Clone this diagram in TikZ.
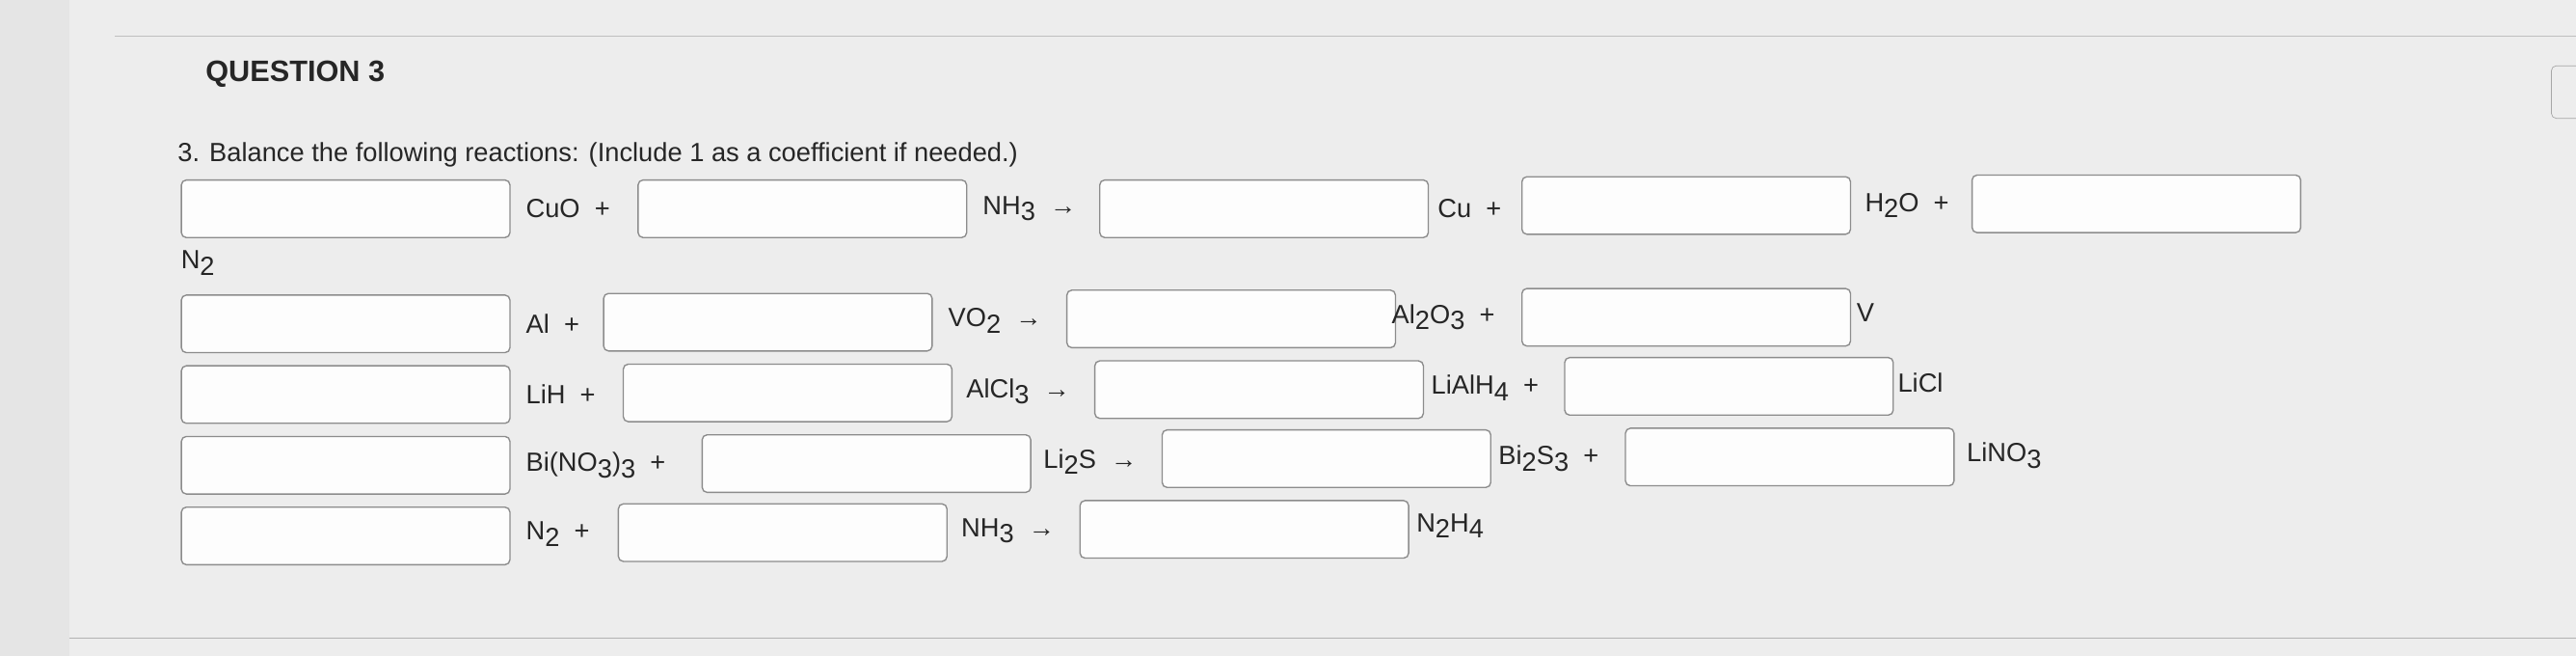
\documentclass[tikz,border=0pt]{standalone}
\usepackage{fontspec}
\setmainfont{Liberation Sans}
\newcommand{\lw}[1]{\raisebox{-0.45ex}{#1}}
\begin{document}
\begin{tikzpicture}[x=1pt,y=-1pt,
  ansbox/.style={draw=black!45,fill=white!80!black!3,rounded corners=3pt,line width=0.8pt,minimum width=200pt,minimum height=35pt,inner sep=0pt},
  lbl/.style={anchor=west,inner sep=0pt,font=\fontsize{16}{19}\selectfont,text=black!85}]
\useasboundingbox (0,0) rectangle (1568,399);
\fill[black!10] (0,0) rectangle (1568,399);
\fill[black!7] (42,0) rectangle (1568,399);
\draw[black!25,line width=0.8pt] (70,22) -- (1568,22);
\draw[black!30,line width=0.8pt] (42,388) -- (1568,388);
\draw[black!35,rounded corners=3pt] (1553,40) rectangle (1580,72);
\node[lbl,font=\fontsize{18}{21}\selectfont\bfseries] (q) at (125,45) {QUESTION 3};
\node[lbl] (t) at (108,94) {3. Balance the following reactions: (Include 1 as a coefficient if needed.)};
% row 1
\node[ansbox,anchor=west] (a1) at (110,127) {};
\node[lbl] (l11) at (320,127) {CuO \ +};
\node[ansbox,anchor=west] (a2) at (388,127) {};
\node[lbl] (l12) at (598,127) {NH\lw{3} \ →};
\node[ansbox,anchor=west] (a3) at (669,127) {};
\node[lbl] (l13) at (875,127) {Cu \ +};
\node[ansbox,anchor=west] (a4) at (926,125) {};
\node[lbl] (l14) at (1135,125) {H\lw{2}O \ +};
\node[ansbox,anchor=west] (a5) at (1200,124) {};
\node[lbl] (l15) at (110,160) {N\lw{2}};
% row 2
\node[ansbox,anchor=west] (b1) at (110,197) {};
\node[lbl] (l21) at (320,197) {Al \ +};
\node[ansbox,anchor=west] (b2) at (367,196) {};
\node[lbl] (l22) at (577,195) {VO\lw{2} \ →};
\node[ansbox,anchor=west] (b3) at (649,194) {};
\node[lbl] (l23) at (847,193) {Al\lw{2}O\lw{3} \ +};
\node[ansbox,anchor=west] (b4) at (926,193) {};
\node[lbl] (l24) at (1130,190) {V};
% row 3
\node[ansbox,anchor=west] (c1) at (110,240) {};
\node[lbl] (l31) at (320,240) {LiH \ +};
\node[ansbox,anchor=west] (c2) at (379,239) {};
\node[lbl] (l32) at (588,238) {AlCl\lw{3} \ →};
\node[ansbox,anchor=west] (c3) at (666,237) {};
\node[lbl] (l33) at (871,236) {LiAlH\lw{4} \ +};
\node[ansbox,anchor=west] (c4) at (952,235) {};
\node[lbl] (l34) at (1155,233) {LiCl};
% row 4
\node[ansbox,anchor=west] (d1) at (110,283) {};
\node[lbl] (l41) at (320,283) {Bi(NO\lw{3})\lw{3} \ +};
\node[ansbox,anchor=west] (d2) at (427,282) {};
\node[lbl] (l42) at (635,281) {Li\lw{2}S \ →};
\node[ansbox,anchor=west] (d3) at (707,279) {};
\node[lbl] (l43) at (912,279) {Bi\lw{2}S\lw{3} \ +};
\node[ansbox,anchor=west] (d4) at (989,278) {};
\node[lbl] (l44) at (1197,277) {LiNO\lw{3}};
% row 5
\node[ansbox,anchor=west] (e1) at (110,326) {};
\node[lbl] (l51) at (320,325) {N\lw{2} \ +};
\node[ansbox,anchor=west] (e2) at (376,324) {};
\node[lbl] (l52) at (585,323) {NH\lw{3} \ →};
\node[ansbox,anchor=west] (e3) at (657,322) {};
\node[lbl] (l53) at (862,320) {N\lw{2}H\lw{4}};
\end{tikzpicture}
\end{document}
